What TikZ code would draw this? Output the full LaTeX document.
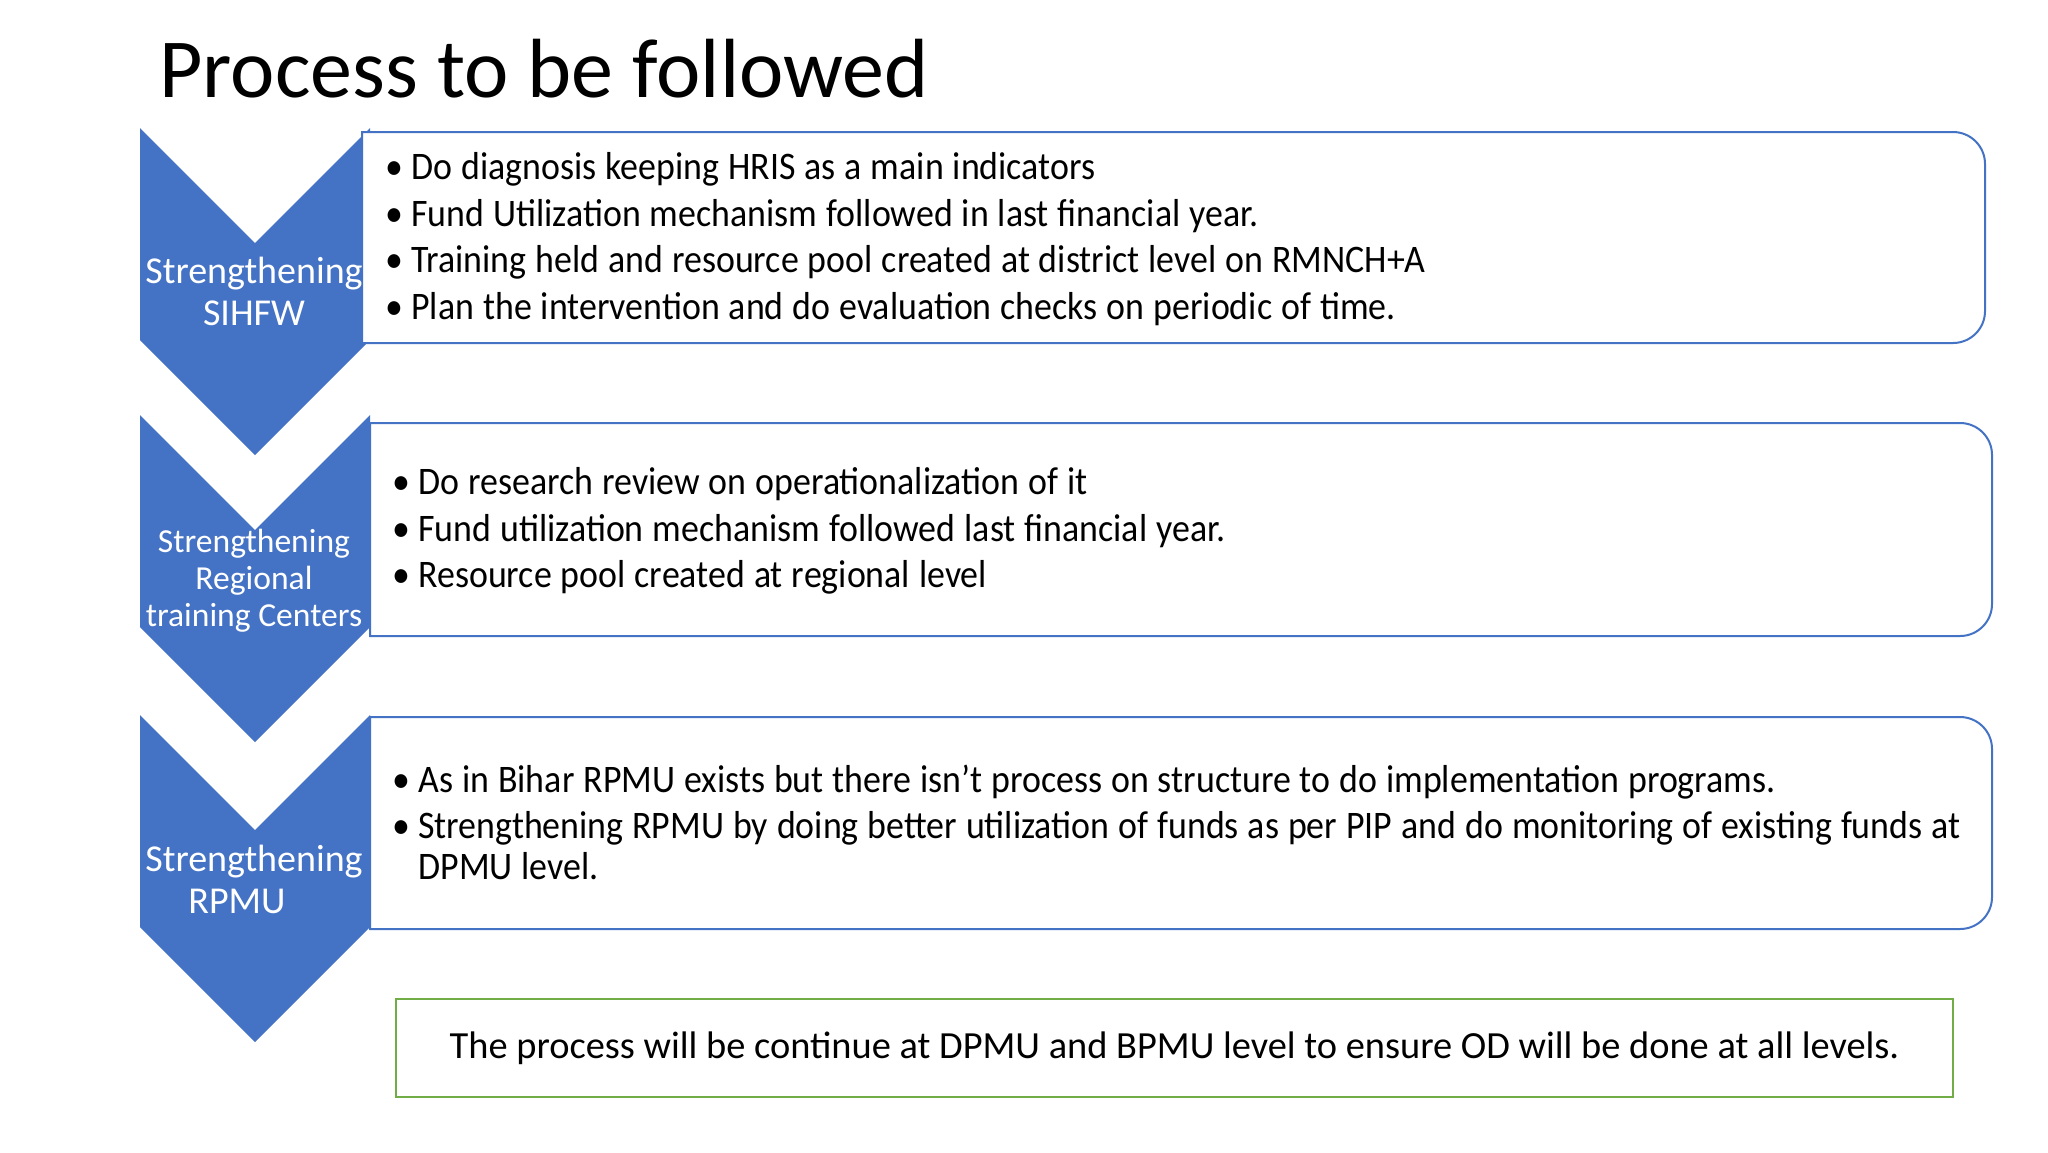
\documentclass[tikz,border=0pt]{standalone}
\usepackage{fontspec}
\setmainfont{Carlito}
\newfontfamily\bodyfont{Carlito}[FakeStretch=0.92]
\usetikzlibrary{positioning}

\definecolor{chevblue}{HTML}{4472C4}
\definecolor{notegreen}{HTML}{70AD47}

\newcommand{\blt}[1]{\par\makebox[13pt][l]{\textbullet}#1}
\newcommand{\tightspaces}{\setlength{\spaceskip}{4.5pt plus 1pt minus 0.5pt}}

\begin{document}
\begin{tikzpicture}[x=0.5pt, y=-0.5pt,
    chevron/.style={fill=chevblue, draw=none},
    listbox/.style={draw=chevblue, line width=1pt, fill=white},
    chevlabel/.style={text=white, align=center, inner sep=0pt},
    listtext/.style={anchor=west, align=left, inner sep=0pt, text width=820pt,
      font=\bodyfont\fontsize{19.5}{20.5}\selectfont\setlength{\parskip}{2.7pt}},
    notebox/.style={draw=notegreen, line width=1pt, minimum width=778.5pt,
      minimum height=49pt, font=\fontsize{19.2}{21}\selectfont}]
  \fill[white] (0,0) rectangle (2048,1152);
  \useasboundingbox (0,0) rectangle (2048,1152);

  % title
  \node[anchor=base west, inner sep=0pt, font=\fontsize{42}{48}\selectfont] (title) at (159,97) {Process to be followed};

  % chevrons
  \fill[chevron] (140,128) -- (255,243) -- (370,128) -- (370,340) -- (255,455) -- (140,340) -- cycle;
  \fill[chevron] (140,415) -- (255,530) -- (370,415) -- (370,627) -- (255,742) -- (140,627) -- cycle;
  \fill[chevron] (140,715) -- (255,830) -- (370,715) -- (370,927) -- (255,1042) -- (140,927) -- cycle;

  % boxes, square on the left, round on the right
  \draw[listbox] (362,240) -- (362,132) -- (1200,132) [rounded corners=16pt] -- (1985,132) -- (1985,343) -- (1200,343) [sharp corners] -- (362,343) -- cycle;
  \draw[listbox] (370,530) -- (370,423) -- (1200,423) [rounded corners=16pt] -- (1992,423) -- (1992,636) -- (1200,636) [sharp corners] -- (370,636) -- cycle;
  \draw[listbox] (370,820) -- (370,717) -- (1200,717) [rounded corners=16pt] -- (1992,717) -- (1992,929) -- (1200,929) [sharp corners] -- (370,929) -- cycle;

  % labels
  \node[chevlabel, font=\fontsize{19}{21}\selectfont] (sihfw) at (254,291) {Strengthening\\SIHFW};
  \node[chevlabel, font=\fontsize{16.8}{18.5}\selectfont] (rtc) at (254,581) {Strengthening\\Regional\\training Centers};
  \node[chevlabel, font=\fontsize{19}{21}\selectfont] (rpmu) at (254,879) {Strengthening\\\hspace*{-17pt}RPMU};

  % bullet texts
  \node[listtext] (sihfwtxt) at (385,229.5) {\tightspaces\blt{Do diagnosis keeping HRIS as a main indicators}\blt{Fund Utilization mechanism followed in last financial year.}\blt{Training held and resource pool created at district level on RMNCH+A}\blt{Plan the intervention and do evaluation checks on periodic of time.}};
  \node[listtext] (rtctxt) at (392,521.5) {\tightspaces\blt{Do research review on operationalization of it}\blt{Fund utilization mechanism followed last financial year.}\blt{Resource pool created at regional level}};
  \node[listtext] (rpmutxt) at (392,813) {\tightspaces\blt{As in Bihar RPMU exists but there isn’t process on structure to do implementation programs.}\blt{\parbox[t]{790pt}{\tightspaces Strengthening RPMU by doing better utilization of funds as per PIP and do monitoring of existing funds at\\DPMU level.}}};

  % closing note
  \node[notebox] (note) at (1174.5,1048) {\raisebox{-3pt}{The process will be continue at DPMU and BPMU level to ensure OD will be done at all levels.}};
\end{tikzpicture}
\end{document}
